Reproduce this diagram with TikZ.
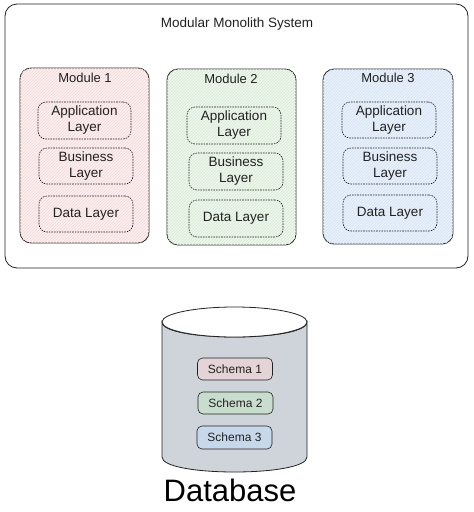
\documentclass[tikz,border=0pt]{standalone}
\usepackage{fontspec}
\setmainfont{Liberation Sans}
\usetikzlibrary{patterns}
\definecolor{inkc}{HTML}{222222}
\definecolor{mAfill}{HTML}{FCEFEF}
\definecolor{mAhatch}{HTML}{F2D8D8}
\definecolor{mBfill}{HTML}{EDF7EC}
\definecolor{mBhatch}{HTML}{D6EAD4}
\definecolor{mCfill}{HTML}{E9F2FB}
\definecolor{mChatch}{HTML}{D2E1F2}
\definecolor{dbfill}{HTML}{CFD3DA}
\definecolor{sAfill}{HTML}{E4D4D7}
\definecolor{sBfill}{HTML}{C9DDCE}
\definecolor{sCfill}{HTML}{C7D8EA}
\tikzset{
  outerbox/.style={draw=inkc, line width=0.8pt, rounded corners=12pt, fill=white},
  modbox/.style={draw=inkc, line width=0.8pt, rounded corners=11pt, inner sep=0pt},
  layerbox/.style={draw=inkc, line width=0.6pt, dash pattern=on 1.6pt off 1pt, rounded corners=8pt,
     align=center, inner sep=0pt, font=\fontsize{13.5}{16}\selectfont, text=inkc},
  schemabox/.style={draw=inkc, line width=0.6pt, rounded corners=5pt, inner sep=0pt,
     minimum width=75pt, minimum height=22pt, font=\fontsize{12}{14}\selectfont, text=inkc},
  titletext/.style={font=\fontsize{13}{15}\selectfont, text=inkc, inner sep=0pt},
}
\begin{document}
\begin{tikzpicture}[x=1pt,y=-1pt]
\useasboundingbox (0,0) rectangle (474,512);
\fill[white] (0,0) rectangle (474,512);
% outer system box
\node[outerbox, minimum width=463pt, minimum height=264pt] (sys) at (236.5,136) {};
\node[titletext, font=\fontsize{13.5}{15}\selectfont] (systitle) at (237,24) {Modular Monolith System};
% modules
\node[modbox, minimum width=129pt, minimum height=175pt, fill=mAfill,
  postaction={pattern=north east lines, pattern color=mAhatch}] (m1) at (84.5,155.5) {};
\node[modbox, minimum width=129pt, minimum height=176pt, fill=mBfill,
  postaction={pattern=north east lines, pattern color=mBhatch}] (m2) at (231.5,157) {};
\node[modbox, minimum width=130pt, minimum height=175pt, fill=mCfill,
  postaction={pattern=north east lines, pattern color=mChatch}] (m3) at (388,156.5) {};
\node[titletext] (m1t) at (85,78) {Module 1};
\node[titletext] (m2t) at (231,79) {Module 2};
\node[titletext] (m3t) at (388,78) {Module 3};
% layers module 1
\node[layerbox, minimum width=93pt, minimum height=37pt] (m1a) at (84.5,120.5) {Application\\Layer};
\node[layerbox, minimum width=94pt, minimum height=36pt] (m1b) at (86,166) {Business\\Layer};
\node[layerbox, minimum width=94pt, minimum height=36pt] (m1d) at (86,214) {Data Layer};
% layers module 2
\node[layerbox, minimum width=94pt, minimum height=37pt] (m2a) at (234,125.5) {Application\\Layer};
\node[layerbox, minimum width=94pt, minimum height=37pt] (m2b) at (236,171.5) {Business\\Layer};
\node[layerbox, minimum width=94pt, minimum height=37pt] (m2d) at (236,218.5) {Data Layer};
% layers module 3
\node[layerbox, minimum width=94pt, minimum height=36pt] (m3a) at (389,120) {Application\\Layer};
\node[layerbox, minimum width=94pt, minimum height=36pt] (m3b) at (390,166) {Business\\Layer};
\node[layerbox, minimum width=94pt, minimum height=36pt] (m3d) at (390,213) {Data Layer};
% database cylinder
\draw[inkc, line width=0.8pt, fill=dbfill]
  (162,322) -- (162,457) .. controls (162,477) and (307,477) .. (307,457)
  -- (307,322) .. controls (307,342) and (162,342) .. (162,322) -- cycle;
\draw[inkc, line width=0.8pt, fill=white] (234.5,322) ellipse [x radius=72.5pt, y radius=15pt];
\node[schemabox, fill=sAfill] (s1) at (235,369) {Schema 1};
\node[schemabox, fill=sBfill] (s2) at (235.5,403) {Schema 2};
\node[schemabox, fill=sCfill, minimum height=23pt] (s3) at (234.5,437.5) {Schema 3};
\node[font=\fontsize{31}{34}\selectfont, text=black, inner sep=0pt] (dbl) at (230,490) {Database};
\end{tikzpicture}
\end{document}
